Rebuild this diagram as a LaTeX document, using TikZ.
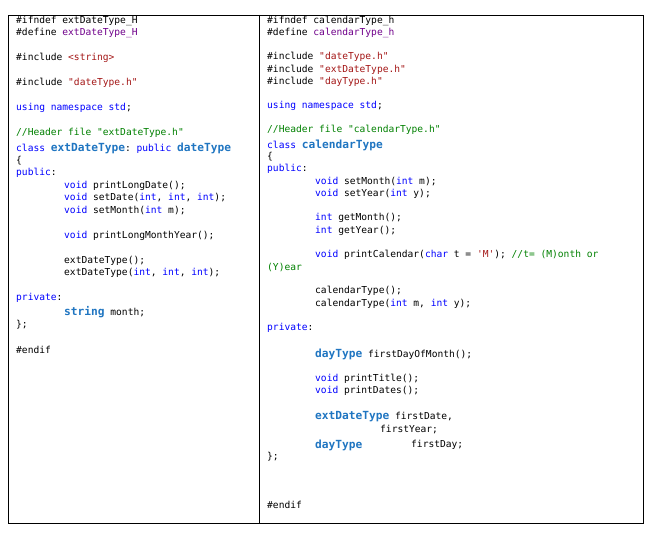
\documentclass[tikz,border=0pt]{standalone}
\usepackage{fontspec}
\setmonofont{DejaVu Sans Mono}
\usetikzlibrary{positioning}
\definecolor{kw}{RGB}{0,0,255}
\definecolor{ty}{RGB}{31,117,193}
\definecolor{st}{RGB}{163,21,21}
\definecolor{mc}{RGB}{111,0,138}
\definecolor{cm}{RGB}{0,128,0}
\newcommand{\kw}[1]{\textcolor{kw}{#1}}
\newcommand{\ty}[1]{{\fontsize{11.2}{12}\selectfont\bfseries\textcolor{ty}{#1}}}
\newcommand{\st}[1]{\textcolor{st}{#1}}
\newcommand{\mc}[1]{\textcolor{mc}{#1}}
\newcommand{\cm}[1]{\textcolor{cm}{#1}}
\begin{document}
\begin{tikzpicture}[x=1pt, y=-1pt,
        code/.style = {anchor=west, inner sep=0pt, font=\ttfamily\fontsize{9.6}{11}\selectfont}
                    ]
\useasboundingbox (0,0) rectangle (655,535);
\node (box) [draw, line width=0.8pt, minimum width=635pt, minimum height=508pt, inner sep=0pt] at (325.5,269) {};
\coordinate (divt) at (259,15);
\coordinate (divb) at (259,523);
\draw[line width=0.8pt] (divt) -- (divb);
% left column
\node (a1)  [code] at (16,21)  {\#ifndef extDateType\_H};
\node (a2)  [code] at (16,33)  {\#define \mc{extDateType\_H}};
\node (a3)  [code] at (16,58)  {\#include \st{<string>}};
\node (a4)  [code] at (16,83)  {\#include \st{"dateType.h"}};
\node (a5)  [code] at (16,108) {\kw{using namespace std};};
\node (a6)  [code] at (16,133) {\cm{//Header file "extDateType.h"}};
\node (a7)  [code] at (16,148) {\kw{class} \ty{extDateType}: \kw{public} \ty{dateType}};
\node (a8)  [code] at (16,161) {\{};
\node (a9)  [code] at (16,173) {\kw{public}:};
\node (a10) [code] at (64,186) {\kw{void} printLongDate();};
\node (a11) [code] at (64,198) {\kw{void} setDate(\kw{int}, \kw{int}, \kw{int});};
\node (a12) [code] at (64,211) {\kw{void} setMonth(\kw{int} m);};
\node (a13) [code] at (64,236) {\kw{void} printLongMonthYear();};
\node (a14) [code] at (64,261) {extDateType();};
\node (a15) [code] at (64,273) {extDateType(\kw{int}, \kw{int}, \kw{int});};
\node (a16) [code] at (16,298) {\kw{private}:};
\node (a17) [code] at (64,312) {\ty{string} month;};
\node (a18) [code] at (16,325) {\};};
\node (a19) [code] at (16,350) {\#endif};
% right column
\node (b1)  [code] at (267,21)  {\#ifndef calendarType\_h};
\node (b2)  [code] at (267,33)  {\#define \mc{calendarType\_h}};
\node (b3)  [code] at (267,57)  {\#include \st{"dateType.h"}};
\node (b4)  [code] at (267,70)  {\#include \st{"extDateType.h"}};
\node (b5)  [code] at (267,82)  {\#include \st{"dayType.h"}};
\node (b6)  [code] at (267,106) {\kw{using namespace std};};
\node (b7)  [code] at (267,130) {\cm{//Header file "calendarType.h"}};
\node (b8)  [code] at (267,145) {\kw{class} \ty{calendarType}};
\node (b9)  [code] at (267,157) {\{};
\node (b10) [code] at (267,169) {\kw{public}:};
\node (b11) [code] at (315,182) {\kw{void} setMonth(\kw{int} m);};
\node (b12) [code] at (315,194) {\kw{void} setYear(\kw{int} y);};
\node (b13) [code] at (315,218) {\kw{int} getMonth();};
\node (b14) [code] at (315,231) {\kw{int} getYear();};
\node (b15) [code] at (315,255) {\kw{void} printCalendar(\kw{char} t = \st{'M'}); \cm{//t= (M)onth or}};
\node (b16) [code] at (267,267) {\cm{(Y)ear}};
\node (b17) [code] at (315,291) {calendarType();};
\node (b18) [code] at (315,304) {calendarType(\kw{int} m, \kw{int} y);};
\node (b19) [code] at (267,328) {\kw{private}:};
\node (b20) [code] at (315,354) {\ty{dayType} firstDayOfMonth();};
\node (b21) [code] at (315,379) {\kw{void} printTitle();};
\node (b22) [code] at (315,391) {\kw{void} printDates();};
\node (b23) [code] at (315,417) {\ty{extDateType} firstDate,};
\node (b24) [code] at (380,430) {firstYear;};
\node (b25) [code] at (315,445) {\ty{dayType}};
\node (b26) [code] at (411,445) {firstDay;};
\node (b27) [code] at (267,457) {\};};
\node (b28) [code] at (267,505) {\#endif};
\end{tikzpicture}
\end{document}
